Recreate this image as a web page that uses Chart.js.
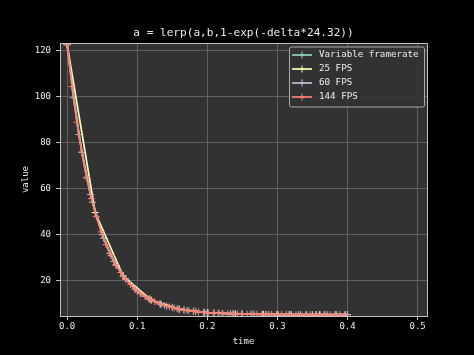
<!DOCTYPE html>
<html>
<head>
<meta charset="utf-8">
<script src="https://cdn.jsdelivr.net/npm/chart.js@4.4.1/dist/chart.umd.min.js"></script>
<style>
  html, body { margin: 0; padding: 0; background: #000; }
  #chart { display: block; }
</style>
</head>
<body>
<canvas id="chart" width="474" height="355"></canvas>
<script>
// series data
const seriesNames = ['Variable framerate', '25 FPS', '60 FPS', '144 FPS'];
const seriesColors = ['#8dd3c7', '#feffb3', '#bfbbd9', '#fa8174'];

const varTime = [0, 0.009, 0.021, 0.028, 0.036, 0.052, 0.061, 0.070, 0.083, 0.097,
  0.105, 0.118, 0.134, 0.142, 0.157, 0.171, 0.180, 0.196, 0.210, 0.221,
  0.238, 0.249, 0.262, 0.279, 0.288, 0.301, 0.317, 0.330, 0.342, 0.356,
  0.371, 0.384, 0.397];
const varValue = [122.7, 99.6, 75.8, 64.7, 54.2, 38.5, 31.9, 26.7, 20.9, 16.4,
  14.4, 12.0, 9.8, 9.0, 7.9, 7.1, 6.8, 6.3, 6.0, 5.8,
  5.7, 5.6, 5.5, 5.4, 5.4, 5.3, 5.3, 5.3, 5.3, 5.3,
  5.3, 5.3, 5.3];

const fps25Time = [0, 0.04, 0.08, 0.12, 0.16, 0.20, 0.24, 0.28, 0.32, 0.36, 0.40];
const fps25Value = [122.7, 49.7, 22.1, 11.6, 7.7, 6.2, 5.6, 5.4, 5.3, 5.3, 5.3];

const fps60Time = [0, 0.0167, 0.0333, 0.05, 0.0667, 0.0833, 0.1, 0.1167, 0.1333, 0.15,
  0.1667, 0.1833, 0.2, 0.2167, 0.2333, 0.25, 0.2667, 0.2833, 0.3, 0.3167,
  0.3333, 0.35, 0.3667, 0.3833, 0.4];
const fps60Value = [122.7, 83.6, 57.5, 40.1, 28.5, 20.8, 15.6, 12.2, 9.9, 8.4,
  7.3, 6.7, 6.2, 5.9, 5.7, 5.6, 5.5, 5.4, 5.4, 5.4,
  5.3, 5.3, 5.3, 5.3, 5.3];

const fps144Time = [0, 0.0069, 0.0139, 0.0208, 0.0278, 0.0347, 0.0417, 0.0486, 0.0556, 0.0625,
  0.0694, 0.0764, 0.0833, 0.0903, 0.0972, 0.1042, 0.1111, 0.1181, 0.125, 0.1319,
  0.1389, 0.1458, 0.1528, 0.1597, 0.1667, 0.1736, 0.1806, 0.1875, 0.1944, 0.2014,
  0.2083, 0.2153, 0.2222, 0.2292, 0.2361, 0.2431, 0.25, 0.2569, 0.2639, 0.2708,
  0.2778, 0.2847, 0.2917, 0.2986, 0.3056, 0.3125, 0.3194, 0.3264, 0.3333, 0.3403,
  0.3472, 0.3542, 0.3611, 0.3681, 0.375, 0.3819, 0.3889, 0.3958];
const fps144Value = [122.7, 104.5, 89.0, 76.0, 65.0, 55.8, 47.9, 41.3, 35.7, 31.0,
  27.0, 23.6, 20.8, 18.4, 16.3, 14.6, 13.2, 12.0, 10.9, 10.0,
  9.3, 8.7, 8.2, 7.7, 7.3, 7.0, 6.8, 6.5, 6.3, 6.2,
  6.0, 5.9, 5.8, 5.8, 5.7, 5.6, 5.6, 5.5, 5.5, 5.5,
  5.4, 5.4, 5.4, 5.4, 5.4, 5.4, 5.3, 5.3, 5.3, 5.3,
  5.3, 5.3, 5.3, 5.3, 5.3, 5.3, 5.3, 5.3];

const xTickStep = 0.1;
const yTickStep = 20;

const MONO = '"DejaVu Sans Mono", monospace';
const TEXT = '#ececec';
const GRID = '#606060';
const SPINE = '#c0c0c0';

function zip(xs, ys) {
  return xs.map((x, i) => ({ x: x, y: ys[i] }));
}

const allTimes = [varTime, fps25Time, fps60Time, fps144Time];
const allValues = [varValue, fps25Value, fps60Value, fps144Value];

const datasets = seriesNames.map((name, i) => ({
  label: name,
  data: zip(allTimes[i], allValues[i]),
  borderColor: seriesColors[i],
  backgroundColor: seriesColors[i],
  borderWidth: 1.7,
  pointStyle: 'cross',
  pointRadius: 3.5,
  pointBorderWidth: 1,
  pointBorderColor: seriesColors[i],
  tension: 0,
  order: seriesNames.length - i   // later series drawn on top, like matplotlib
}));

// plot background, top/right spines and the boxed legend
const framePlugin = {
  id: 'frame',
  beforeDraw(chart) {
    const { ctx, chartArea: a } = chart;
    ctx.save();
    ctx.fillStyle = '#000';
    ctx.fillRect(0, 0, chart.width, chart.height);
    ctx.fillStyle = '#323232';
    ctx.fillRect(a.left, a.top, a.right - a.left, a.bottom - a.top);
    ctx.restore();
  },
  afterDraw(chart) {
    const { ctx, chartArea: a } = chart;
    ctx.save();
    ctx.strokeStyle = SPINE;
    ctx.lineWidth = 1;
    ctx.beginPath();
    ctx.moveTo(a.left, Math.round(a.top) + 0.5);
    ctx.lineTo(Math.round(a.right) + 0.5, Math.round(a.top) + 0.5);
    ctx.lineTo(Math.round(a.right) + 0.5, a.bottom);
    ctx.stroke();

    // legend box
    const bx = 289, by = 46.5, bw = 135, bh = 60;
    ctx.fillStyle = 'rgba(50,50,50,0.85)';
    ctx.strokeStyle = '#a8a8a8';
    ctx.beginPath();
    ctx.roundRect(bx + 0.5, by + 0.5, bw, bh, 2);
    ctx.fill();
    ctx.stroke();

    ctx.font = '9.2px ' + MONO;
    ctx.textBaseline = 'middle';
    ctx.textAlign = 'left';
    seriesNames.forEach((name, i) => {
      const y = 55 + i * 14;
      ctx.strokeStyle = seriesColors[i];
      ctx.lineWidth = 1.7;
      ctx.beginPath();
      ctx.moveTo(292, y);
      ctx.lineTo(312, y);
      ctx.stroke();
      ctx.lineWidth = 1;
      ctx.beginPath();
      ctx.moveTo(302, y - 3.5);
      ctx.lineTo(302, y + 3.5);
      ctx.moveTo(298.5, y);
      ctx.lineTo(305.5, y);
      ctx.stroke();
      ctx.fillStyle = TEXT;
      ctx.fillText(name, 319, y);
    });
    ctx.restore();
  }
};

new Chart(document.getElementById('chart'), {
  type: 'line',
  data: { datasets: datasets },
  options: {
    responsive: false,
    animation: false,
    devicePixelRatio: 1,
    layout: { padding: { top: 0, left: 0, right: 47, bottom: 0 } },
    plugins: {
      legend: { display: false },
      tooltip: { enabled: false },
      title: {
        display: true,
        fullSize: false,
        text: 'a = lerp(a,b,1-exp(-delta*24.32))',
        color: TEXT,
        font: { family: MONO, size: 11.1, weight: 'normal' },
        padding: { top: 26, bottom: 3.7 }
      }
    },
    scales: {
      x: {
        type: 'linear',
        min: -0.0102,
        max: 0.5134,
        afterFit(scale) { scale.height = 39; },
        ticks: {
          stepSize: xTickStep,
          includeBounds: false,
          color: TEXT,
          padding: 1,
          maxRotation: 0,
          font: { family: MONO, size: 9 },
          callback: (v) => v.toFixed(1)
        },
        grid: { color: GRID, tickColor: SPINE, tickLength: 4, lineWidth: 1 },
        border: { color: SPINE, width: 1 },
        title: {
          display: true,
          text: 'time',
          color: TEXT,
          font: { family: MONO, size: 9 },
          padding: { top: 0, bottom: 8.2 }
        }
      },
      y: {
        type: 'linear',
        min: 4.7,
        max: 123.4,
        afterFit(scale) { scale.width = 60; },
        ticks: {
          stepSize: yTickStep,
          includeBounds: false,
          color: TEXT,
          padding: 5,
          font: { family: MONO, size: 9 },
          callback: (v) => String(v)
        },
        grid: { color: GRID, tickColor: SPINE, tickLength: 4, lineWidth: 1 },
        border: { color: SPINE, width: 1 },
        title: {
          display: true,
          text: 'value',
          color: TEXT,
          font: { family: MONO, size: 9 },
          padding: { top: 20, bottom: 0 }
        }
      }
    }
  },
  plugins: [framePlugin]
});
</script>
</body>
</html>
